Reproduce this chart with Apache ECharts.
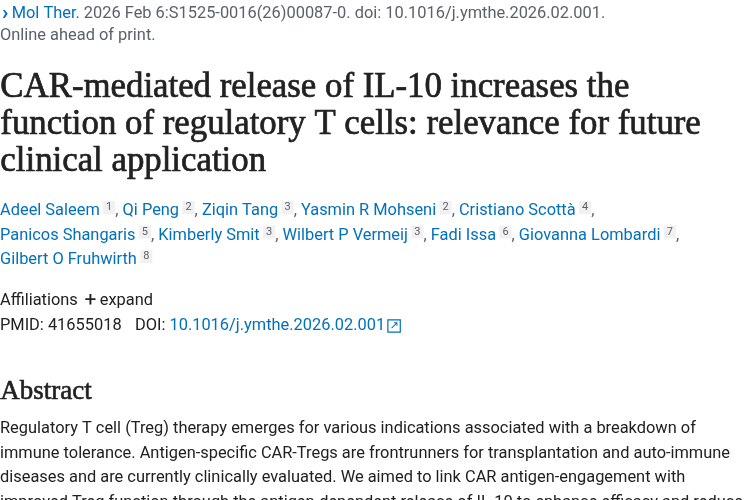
<!DOCTYPE html>
<html>
<head>
<meta charset="utf-8">
<script src="https://cdn.jsdelivr.net/npm/echarts@6/dist/echarts.min.js"></script>
<style>
  html, body { margin: 0; padding: 0; background: #fff; }
  #main { width: 750px; height: 500px; }
</style>
</head>
<body>
<div id="main"></div>
<script>
const citeLines = ['Mol Ther.', ' 2026 Feb 6:S1525-0016(26)00087-0. doi: 10.1016/j.ymthe.2026.02.001.', 'Online ahead of print.'];
const titleLines = ['CAR-mediated release of IL-10 increases the', 'function of regulatory T cells: relevance for future', 'clinical application'];
const authors = ['Adeel Saleem', 'Qi Peng', 'Ziqin Tang', 'Yasmin R Mohseni', 'Cristiano Scottà',
  'Panicos Shangaris', 'Kimberly Smit', 'Wilbert P Vermeij', 'Fadi Issa', 'Giovanna Lombardi',
  'Gilbert O Fruhwirth'];
const affIds = [1, 2, 3, 2, 4, 5, 3, 3, 6, 7, 8];
const authorRows = [[0, 5], [5, 10], [10, 11]];
const pmid = '41655018';
const doi = '10.1016/j.ymthe.2026.02.001';
const abstractLines = [
  'Regulatory T cell (Treg) therapy emerges for various indications associated with a breakdown of',
  'immune tolerance. Antigen-specific CAR-Tregs are frontrunners for transplantation and auto-immune',
  'diseases and are currently clinically evaluated. We aimed to link CAR antigen-engagement with',
  'improved Treg function through the antigen-dependent release of IL-10 to enhance efficacy and reduce'
];

const SANS = 'Roboto';
const SERIF = 'Liberation Serif';
const FS = 16.4;
const blue = '#0071bc';
const dark = '#212121';
const grey = '#5b616b';

const chart = echarts.init(document.getElementById('main'));
const els = [];
const txt = (x, y, text, style) => els.push({
  type: 'text', left: x, top: y,
  style: Object.assign({ text, fontFamily: SANS, fontSize: FS, fill: dark }, style)
});

// citation
els.push({
  type: 'text', left: 2, top: 3,
  style: {
    text: '{a|›} {b|' + citeLines[0] + '}{c|' + citeLines[1] + '}',
    rich: {
      a: { fontFamily: SANS, fontSize: 21, fill: blue, fontWeight: 'bold' },
      b: { fontFamily: SANS, fontSize: FS, fill: blue },
      c: { fontFamily: SANS, fontSize: FS, fill: grey }
    }
  }
});
txt(0, 28, citeLines[2], { fill: grey });

// title
titleLines.forEach((l, i) => txt(0, 70 + i * 37.2, l, {
  fontFamily: SERIF, fontSize: 34.8, fill: dark, stroke: dark, lineWidth: 0.7
}));

// authors
authorRows.forEach(([s, e], r) => {
  let str = '';
  for (let i = s; i < e; i++) {
    str += '{n|' + authors[i] + '} {s|' + affIds[i] + '}';
    if (i < authors.length - 1) str += '{p|, }';
  }
  els.push({
    type: 'text', left: 0, top: 201 + r * 24.5,
    style: {
      text: str,
      rich: {
        n: { fontFamily: SANS, fontSize: FS, fill: blue },
        s: { fontFamily: SANS, fontSize: 11, fill: grey, backgroundColor: '#f1f1f1',
             padding: [1, 3, 1, 3], verticalAlign: 'top', lineHeight: 20 },
        p: { fontFamily: SANS, fontSize: FS, fill: grey }
      }
    }
  });
});

// affiliations
els.push({
  type: 'text', left: 0, top: 290,
  style: {
    text: '{a|Affiliations}  {b|+} {a|expand}',
    rich: {
      a: { fontFamily: SANS, fontSize: FS, fill: dark },
      b: { fontFamily: SANS, fontSize: 21, fill: dark }
    }
  }
});
els.push({
  type: 'text', left: 0, top: 318,
  style: {
    text: '{a|PMID: ' + pmid + '}    {a|DOI: }{b|' + doi + '} {c|↗}',
    rich: {
      a: { fontFamily: SANS, fontSize: FS, fill: dark },
      b: { fontFamily: SANS, fontSize: FS, fill: blue },
      c: { fontFamily: 'DejaVu Sans', fontSize: 11, fill: blue, backgroundColor: '#fff',
           borderColor: blue, borderWidth: 1.2, padding: [0, 1, 0, 1] }
    }
  }
});

// abstract
txt(0, 378, 'Abstract', { fontFamily: SERIF, fontSize: 27, fill: dark, stroke: dark, lineWidth: 0.6 });
abstractLines.forEach((l, i) => txt(0, 421 + i * 24.5, l, { fill: dark }));

chart.setOption({ animation: false, graphic: { elements: els } });
</script>
</body>
</html>
